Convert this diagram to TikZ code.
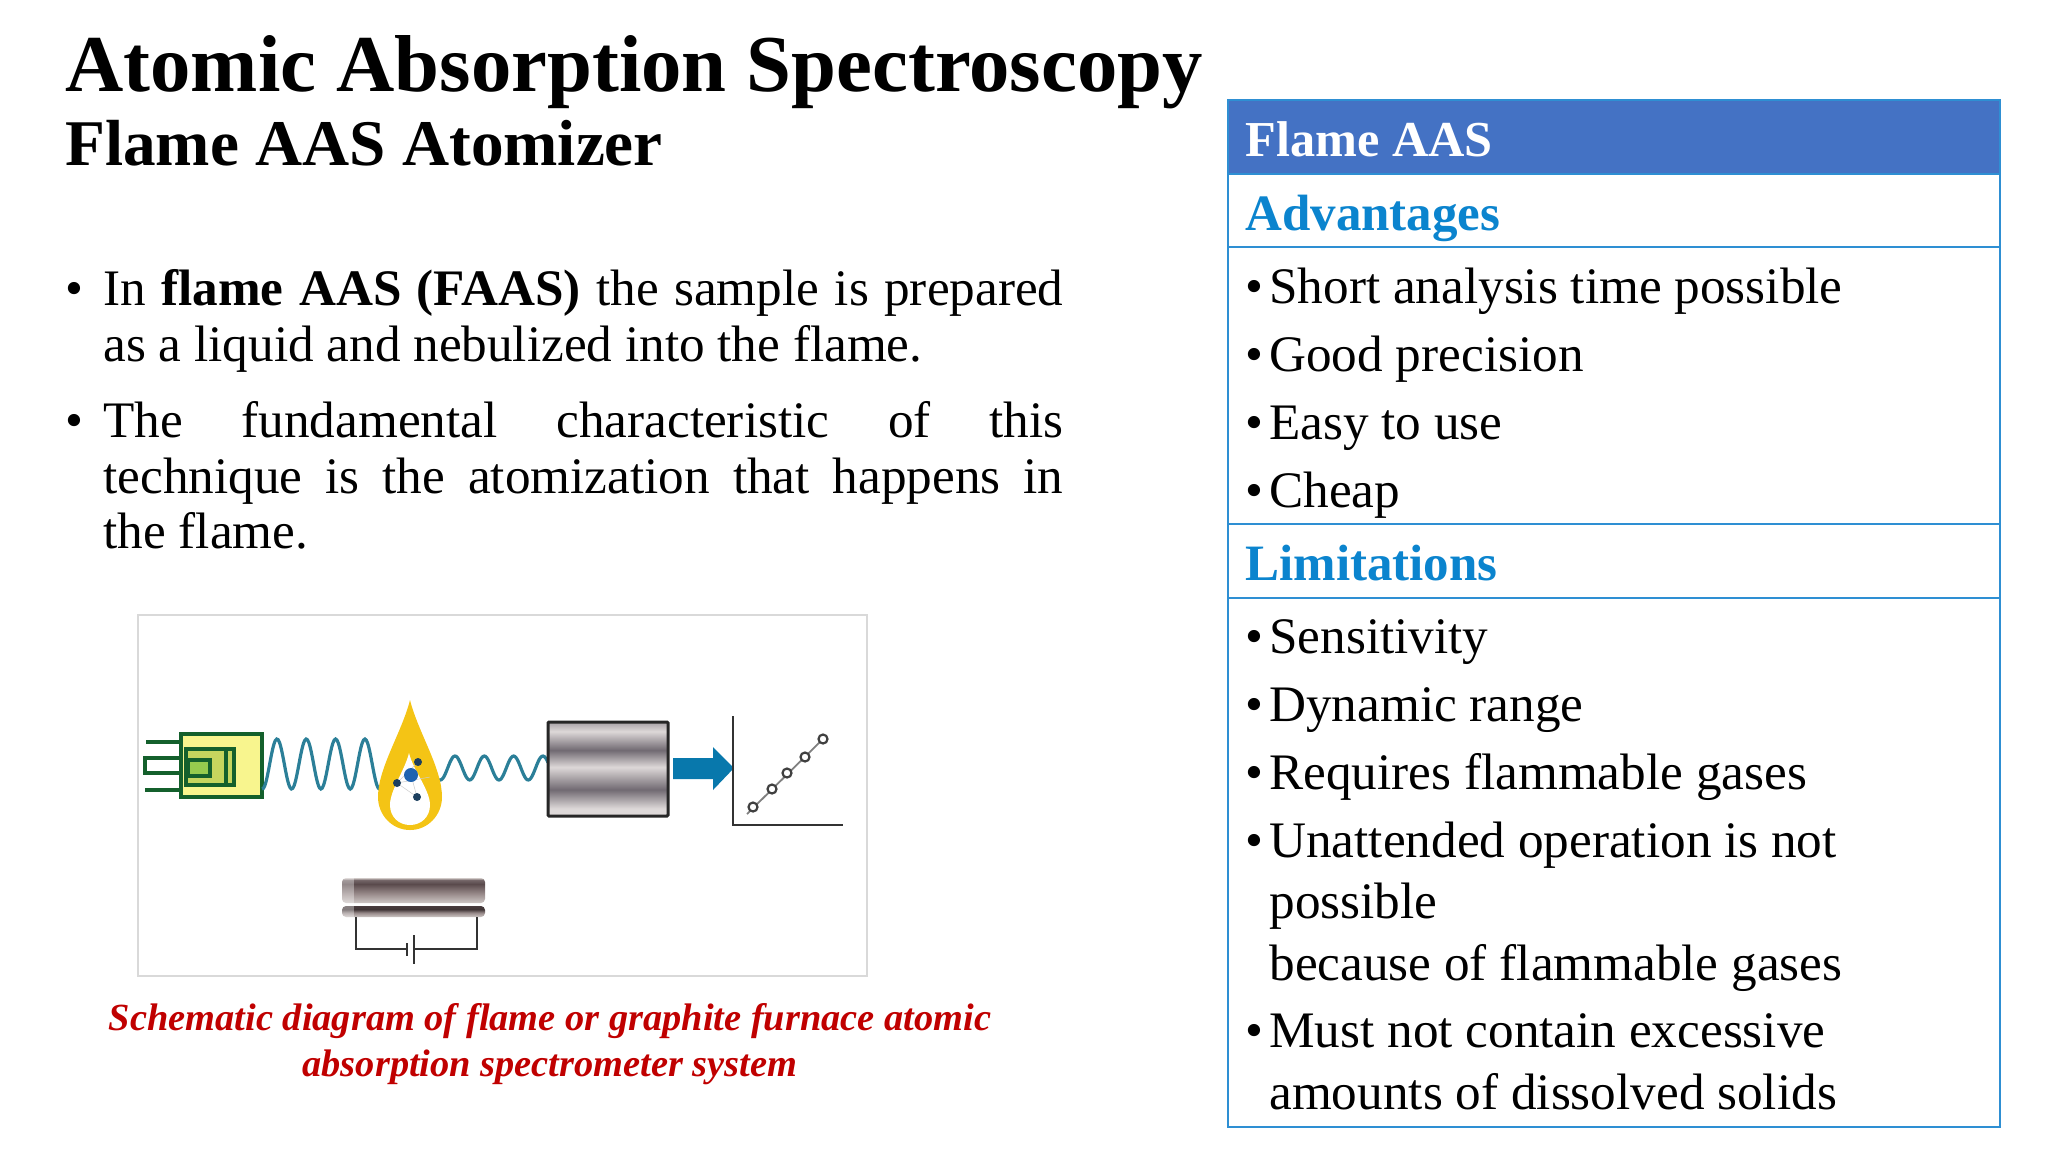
\documentclass[tikz,border=0pt]{standalone}
\usepackage{fontspec}
\setmainfont{Liberation Serif}
\definecolor{tableblue}{HTML}{2E8FD3}
\definecolor{headblue}{HTML}{4472C4}
\definecolor{subblue}{HTML}{0B84CE}
\definecolor{capred}{HTML}{C00000}
\definecolor{wavecol}{HTML}{2B7F98}
\definecolor{lampgreen}{HTML}{14602C}
\definecolor{lampbody}{HTML}{F8F58E}
\definecolor{lampinner}{HTML}{C6D55E}
\definecolor{lampcore}{HTML}{96CB4E}
\definecolor{flamecol}{HTML}{F4C415}
\definecolor{atomblue}{HTML}{1F63B0}
\definecolor{atomdark}{HTML}{1C3F5E}
\definecolor{arrowcol}{HTML}{0878AC}
\definecolor{metallight}{HTML}{DDD8D8}
\definecolor{metaldark}{HTML}{716A72}
\definecolor{tubelight}{HTML}{CFC8C6}
\definecolor{tubemid}{HTML}{948686}
\definecolor{tubedark}{HTML}{5A4A4C}
\pgfdeclareverticalshading{metalbox}{100bp}{
  color(0bp)=(metallight); color(25bp)=(metallight); color(29bp)=(metallight); color(39bp)=(metaldark);
  color(51bp)=(metallight); color(60bp)=(metaldark); color(70bp)=(metallight); color(75bp)=(metaldark!50!metallight); color(100bp)=(metaldark!50!metallight)}
\pgfdeclareverticalshading{tubeup}{100bp}{
  color(0bp)=(tubelight); color(25bp)=(tubelight); color(45bp)=(tubemid); color(63bp)=(tubedark); color(71bp)=(tubedark!85!white); color(75bp)=(tubelight); color(100bp)=(tubelight)}
\pgfdeclareverticalshading{tubedown}{100bp}{
  color(0bp)=(tubelight); color(25bp)=(tubelight); color(45bp)=(tubemid); color(60bp)=(tubedark!70!black); color(75bp)=(tubedark!80!black); color(100bp)=(tubedark)}
\begin{document}
\begin{tikzpicture}[x=0.5pt, y=-0.5pt,
    plain/.style={anchor=base west, inner sep=0pt, font=\fontsize{25.6}{28}\selectfont},
    para/.style={anchor=north west, inner sep=0pt, text width=480pt, align=justify, font=\fontsize{25.6}{27.8}\selectfont},
    head/.style={anchor=base west, inner sep=0pt, font=\fontsize{25.5}{28}\selectfont\bfseries},
    bulletmark/.style={anchor=base west, inner sep=0pt, font=\fontsize{25.6}{28}\selectfont},
    capline/.style={anchor=base, inner sep=0pt, text=capred, font=\fontsize{19.2}{20}\selectfont\bfseries\itshape},
    rule/.style={tableblue, line width=1pt},
    lampline/.style={lampgreen, line width=1.8pt},
    wave/.style={wavecol, line width=1.6pt},
    blackline/.style={black!80, line width=1.2pt},
    marker/.style={circle, draw=black!75, fill=white, line width=1.1pt, minimum size=4.5pt, inner sep=0pt},
]
    \useasboundingbox (0,0) rectangle (2048,1152);

    % Titles
    \node[anchor=base west, inner sep=0pt, font=\fontsize{40.35}{44}\selectfont\bfseries] (title) at (65,91) {Atomic Absorption Spectroscopy};
    \node[anchor=base west, inner sep=0pt, font=\fontsize{32.6}{34}\selectfont\bfseries] (subtitle) at (65,165) {Flame AAS Atomizer};

    % Left text
    \node[para] (paraA) at (103,269) {In {\bfseries flame AAS (FAAS)} the sample is prepared\linebreak as a liquid and nebulized into the flame.};
    \node[para] (paraB) at (103,401) {The fundamental characteristic of this\linebreak technique is the atomization that happens in\linebreak the flame.};
    \node[bulletmark] (dotA) at (65,305) {•};
    \node[bulletmark] (dotB) at (65,437) {•};

    % Picture frame
    \draw[black!15, line width=1pt] (138,615) rectangle (867,976);

    % Lamp
    \coordinate (lampA) at (181,734);
    \coordinate (lampB) at (262,797);
    \fill[lampbody] (lampA) rectangle (lampB);
    \fill[lampinner] (186,749) rectangle (234,785);
    \fill[lampcore] (188,760) rectangle (210,776);
    \draw[lampline] (lampA) rectangle (lampB);
    \draw[lampline] (186,749) rectangle (234,785);
    \draw[lampline] (226,749) -- (226,785);
    \draw[lampline] (188,760) rectangle (210,776);
    \draw[lampline] (146,742) -- (181,742);
    \draw[lampline] (181,758) -- (145,758) -- (145,773) -- (181,773);
    \draw[lampline] (145,790) -- (181,790);

    % Waves
    \draw[wave] plot[domain=262:381, samples=90, smooth] (\x,{764-25*cos(12.287*(\x-277))});
    \draw[wave] plot[domain=439:548, samples=90, smooth] (\x,{768-12*cos(12.287*(\x-455))});

    % Flame
    \fill[flamecol] (410,700) .. controls (402,732) and (378,768) .. (378,797)
        .. controls (378,815) and (392,830) .. (410,830)
        .. controls (428,830) and (442,815) .. (442,797)
        .. controls (442,768) and (418,732) .. (410,700) -- cycle;
    \fill[white] (409,753) .. controls (405,770) and (390,790) .. (390,805)
        .. controls (390,817) and (399,825) .. (410,825)
        .. controls (421,825) and (430,817) .. (430,805)
        .. controls (430,790) and (413,770) .. (409,753) -- cycle;
    \coordinate (atomC) at (411,775);
    \draw[black!20, line width=0.25pt] (418,762) -- (397,783) -- (430,777);
    \draw[black!20, line width=0.25pt] (397,783) -- (417,797) -- (411,775);
    \fill[atomblue] (atomC) circle (7);
    \fill[atomdark] (418,762) circle (4);
    \fill[atomdark] (397,783) circle (4);
    \fill[atomdark] (417,797) circle (4);

    % Monochromator box
    \draw[shading=metalbox, black!85, line width=1.5pt, rounded corners=0.5pt] (548,722) rectangle (668,816);

    % Arrow
    \fill[arrowcol] (673,758) -- (713,758) -- (713,747) -- (734,768) -- (713,790) -- (713,779) -- (673,779) -- cycle;

    % Plot
    \coordinate (axisT) at (733,716);
    \coordinate (axisO) at (733,825);
    \coordinate (axisR) at (843,825);
    \draw[blackline] (axisT) -- (axisO) -- (axisR);
    \coordinate (lineS) at (747,814);
    \coordinate (lineE) at (823,739);
    \draw[black!50, line width=0.9pt] (lineS) -- (lineE);
    \node[marker] (m1) at (753,807) {};
    \node[marker] (m2) at (772,789) {};
    \node[marker] (m3) at (787,773) {};
    \node[marker] (m4) at (805,757) {};
    \node[marker] (m5) at (823,739) {};

    % Graphite furnace
    \shade[shading=tubeup, rounded corners=2pt] (342,878) rectangle (485,903);
    \shade[shading=tubedown, rounded corners=2pt] (342,906) rectangle (485,917);
    \fill[white, opacity=0.35] (342,878) rectangle (354,917);
    \coordinate (wireL) at (356,917);
    \coordinate (wireR) at (477,917);
    \coordinate (plateS) at (407,949);
    \coordinate (plateL) at (414,949);
    \draw[blackline] (wireL) |- (plateS);
    \draw[blackline] (wireR) |- (plateL);
    \draw[blackline] (407,943) -- (407,956);
    \draw[blackline] (414,935) -- (414,964);

    % Caption
    \node[capline] (capA) at (550,1030) {Schematic diagram of flame or graphite furnace atomic};
    \node[capline] (capB) at (550,1076) {absorption spectrometer system};

    % Table
    \coordinate (tabA) at (1228,100);
    \coordinate (tabB) at (2000,1127);
    \fill[headblue] (tabA) rectangle (2000,174);
    \draw[rule] (tabA) rectangle (tabB);
    \draw[rule] (1228,174) -- (2000,174);
    \draw[rule] (1228,247) -- (2000,247);
    \draw[rule] (1228,524) -- (2000,524);
    \draw[rule] (1228,598) -- (2000,598);

    \node[head, text=white, font=\fontsize{25.15}{28}\selectfont\bfseries] (flamehead) at (1245,156) {Flame AAS};
    \node[head, text=subblue] (advhead) at (1245,230) {Advantages};
    \node[head, text=subblue] (limhead) at (1245,580) {Limitations};

    % Advantages
    \node[plain] at (1245,303) {•};
    \node[plain] (adv1) at (1269,303) {Short analysis time possible};
    \node[plain] at (1245,371) {•};
    \node[plain] (adv2) at (1269,371) {Good precision};
    \node[plain] at (1245,439) {•};
    \node[plain] (adv3) at (1269,439) {Easy to use};
    \node[plain] at (1245,507) {•};
    \node[plain] (adv4) at (1269,507) {Cheap};

    % Limitations
    \node[plain] at (1245,653) {•};
    \node[plain] (lim1) at (1269,653) {Sensitivity};
    \node[plain] at (1245,721) {•};
    \node[plain] (lim2) at (1269,721) {Dynamic range};
    \node[plain] at (1245,789) {•};
    \node[plain] (lim3) at (1269,789) {Requires flammable gases};
    \node[plain] at (1245,857) {•};
    \node[plain] (lim4) at (1269,857) {Unattended operation is not};
    \node[plain] (lim4b) at (1269,918) {possible};
    \node[plain] (lim4c) at (1269,980) {because of flammable gases};
    \node[plain] at (1245,1047) {•};
    \node[plain] (lim5) at (1269,1047) {Must not contain excessive};
    \node[plain] (lim5b) at (1269,1109) {amounts of dissolved solids};

\end{tikzpicture}
\end{document}
